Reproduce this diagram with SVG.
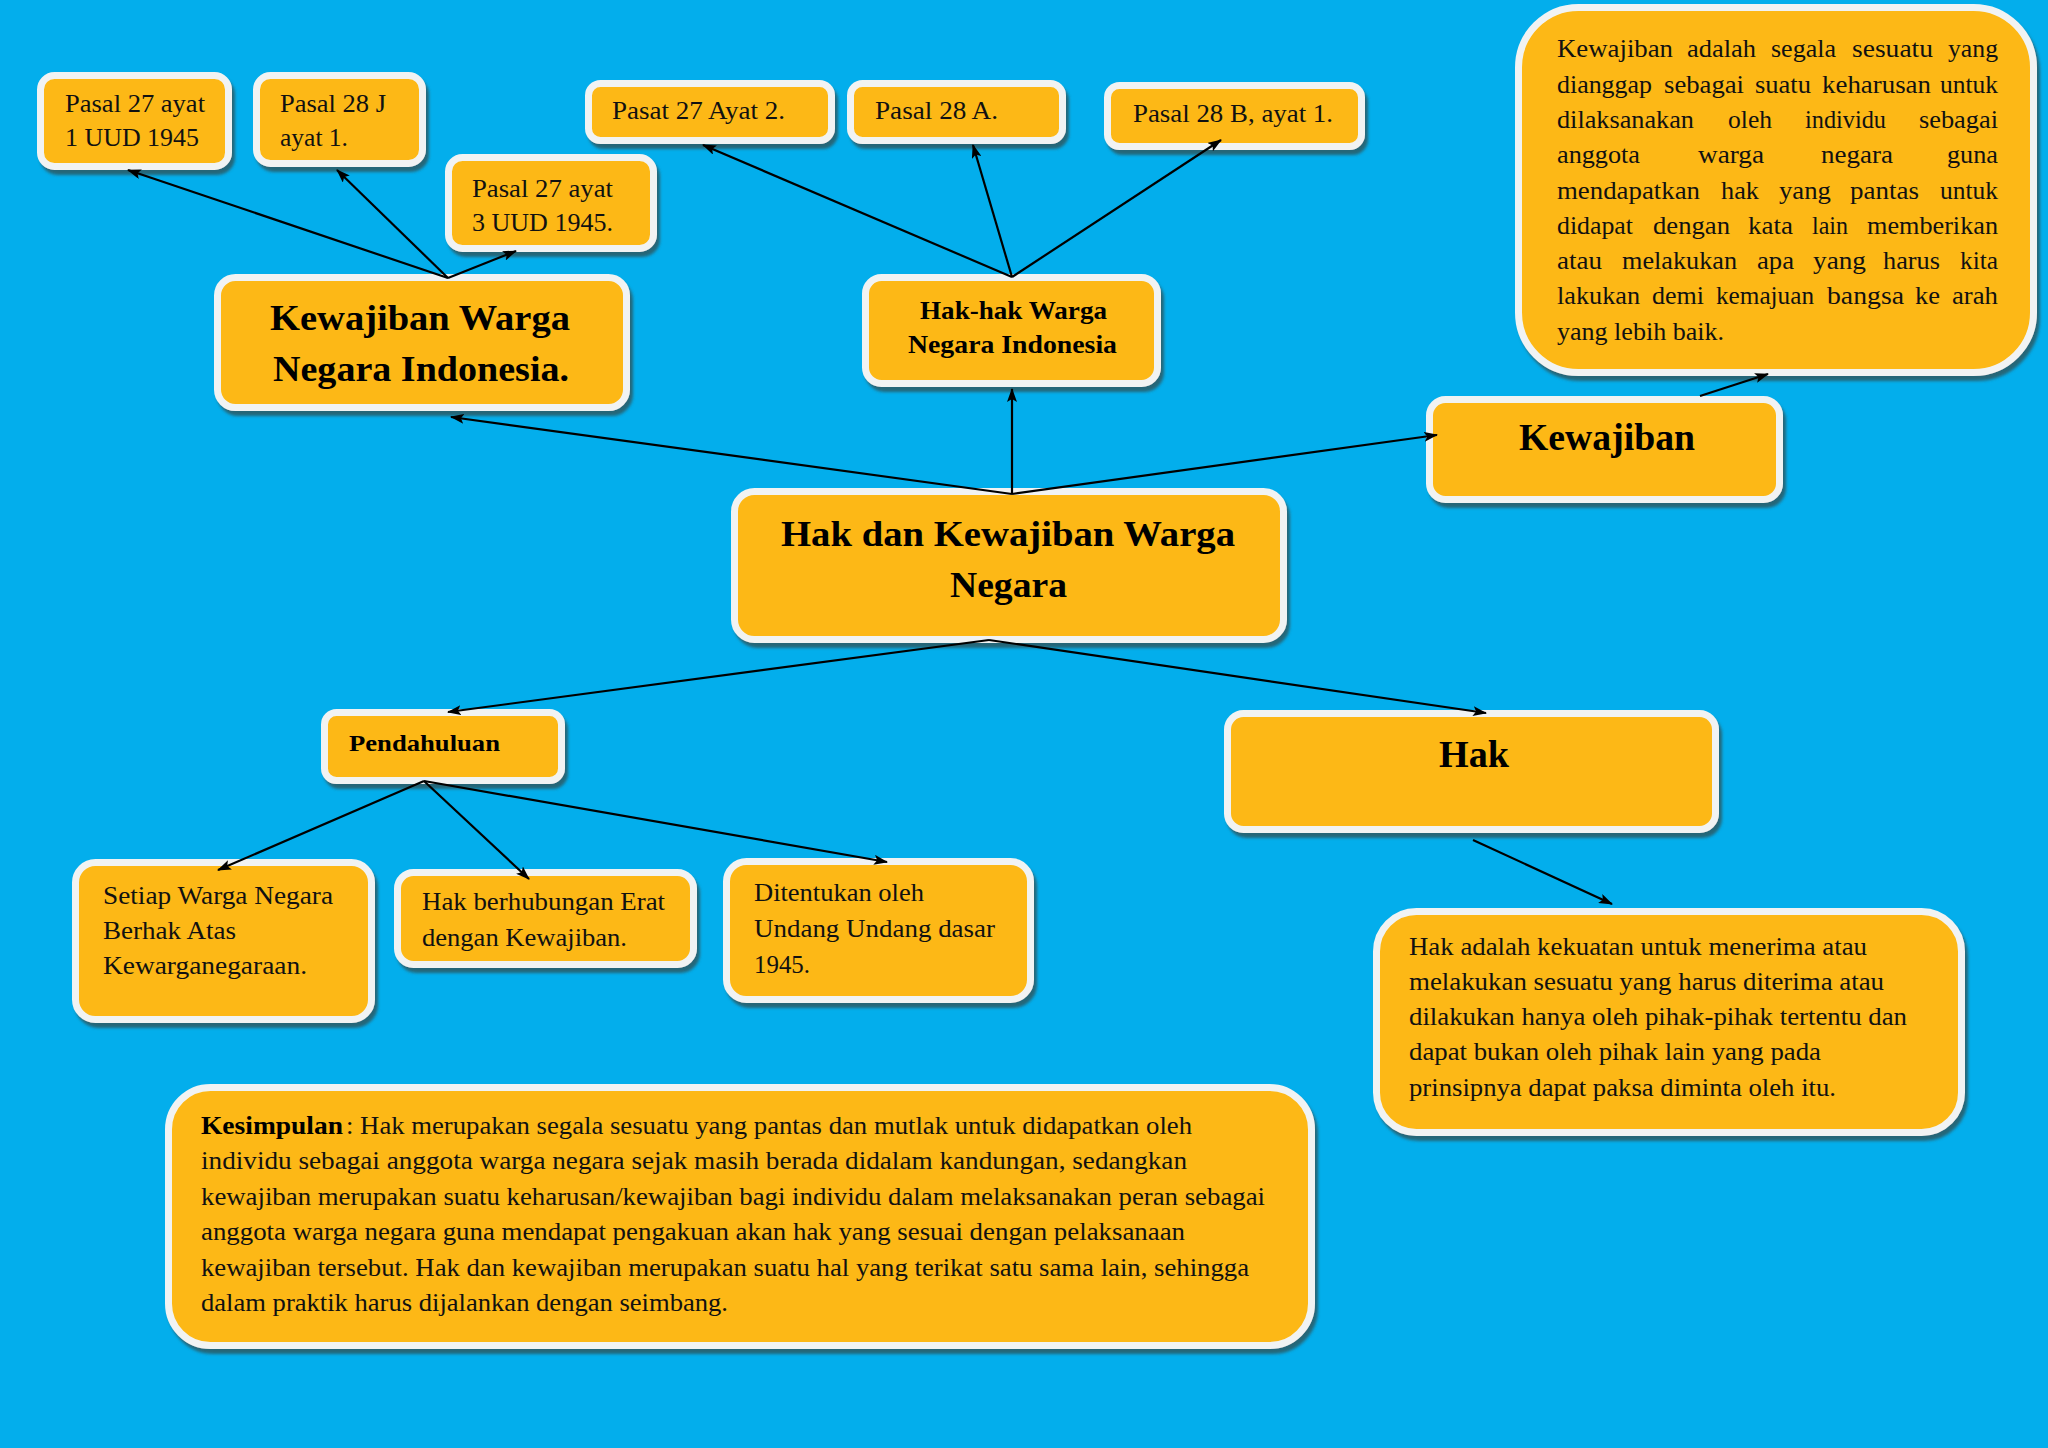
<svg xmlns="http://www.w3.org/2000/svg" width="2048" height="1448" viewBox="0 0 2048 1448">
<defs>
<style>
.box{fill:#FDB813;stroke:#F1F3F3;stroke-width:7;filter:url(#sh)}
.n{font-family:"Liberation Serif","Times New Roman",serif;font-size:26px;fill:#111}
.b{font-family:"Liberation Serif","Times New Roman",serif;font-weight:bold;fill:#000}
.c line{stroke:#000;stroke-width:2.2;marker-end:url(#ah)}
</style>
<filter id="sh" x="-5%" y="-5%" width="115%" height="125%">
<feDropShadow dx="3" dy="5" stdDeviation="1.5" flood-color="#2B5F6C" flood-opacity="0.9"/>
</filter>
<marker id="ah" viewBox="0 0 14 10" refX="13" refY="5" markerWidth="14" markerHeight="10" markerUnits="userSpaceOnUse" orient="auto">
<path d="M0,0 L14,5 L0,10 L3,5 Z" fill="#000"/>
</marker>
</defs>
<rect width="2048" height="1448" fill="#03AEEC"/>

<g id="pasal27a1">
<rect class="box" x="40.5" y="75.5" width="188" height="91" rx="14"/>
<text class="n" x="65" y="112" textLength="140" lengthAdjust="spacingAndGlyphs">Pasal 27 ayat</text>
<text class="n" x="65" y="146" textLength="134" lengthAdjust="spacingAndGlyphs">1 UUD 1945</text>
</g>

<g id="pasal28j">
<rect class="box" x="256.5" y="75.5" width="166" height="88" rx="14"/>
<text class="n" x="280" y="112" textLength="106" lengthAdjust="spacingAndGlyphs">Pasal 28 J</text>
<text class="n" x="280" y="146" textLength="68" lengthAdjust="spacingAndGlyphs">ayat 1.</text>
</g>

<g id="pasal27a3">
<rect class="box" x="448.5" y="157.5" width="205" height="91" rx="14"/>
<text class="n" x="472" y="197" textLength="141" lengthAdjust="spacingAndGlyphs">Pasal 27 ayat</text>
<text class="n" x="472" y="231" textLength="141" lengthAdjust="spacingAndGlyphs">3 UUD 1945.</text>
</g>

<g id="kewajibanWNI">
<rect class="box" x="217.5" y="277.5" width="409" height="130" rx="18"/>
<text class="b" font-size="36" x="270" y="330" textLength="300" lengthAdjust="spacingAndGlyphs">Kewajiban Warga</text>
<text class="b" font-size="36" x="273" y="381" textLength="296" lengthAdjust="spacingAndGlyphs">Negara Indonesia.</text>
</g>

<g id="pasat27a2">
<rect class="box" x="588.5" y="83.5" width="243" height="57" rx="12"/>
<text class="n" x="612" y="119" textLength="173" lengthAdjust="spacingAndGlyphs">Pasat 27 Ayat 2.</text>
</g>

<g id="pasal28a">
<rect class="box" x="850.5" y="83.5" width="212" height="57" rx="12"/>
<text class="n" x="875" y="119" textLength="123" lengthAdjust="spacingAndGlyphs">Pasal 28 A.</text>
</g>

<g id="pasal28b">
<rect class="box" x="1107.5" y="85.5" width="254" height="61" rx="12"/>
<text class="n" x="1133" y="122" textLength="200" lengthAdjust="spacingAndGlyphs">Pasal 28 B, ayat 1.</text>
</g>

<g id="hakhakWNI">
<rect class="box" x="865.5" y="277.5" width="292" height="106" rx="16"/>
<text class="b" font-size="26" x="920" y="319" textLength="187" lengthAdjust="spacingAndGlyphs">Hak-hak Warga</text>
<text class="b" font-size="26" x="908" y="353" textLength="209" lengthAdjust="spacingAndGlyphs">Negara Indonesia</text>
</g>

<g id="kewajibanDef">
<rect class="box" x="1518.5" y="7.5" width="515" height="365" rx="60"/>
<text class="n" y="57"><tspan x="1557" textLength="116" lengthAdjust="spacingAndGlyphs">Kewajiban</tspan> <tspan x="1687" textLength="69" lengthAdjust="spacingAndGlyphs">adalah</tspan> <tspan x="1771" textLength="65" lengthAdjust="spacingAndGlyphs">segala</tspan> <tspan x="1852" textLength="81" lengthAdjust="spacingAndGlyphs">sesuatu</tspan> <tspan x="1948" textLength="50" lengthAdjust="spacingAndGlyphs">yang</tspan></text>
<text class="n" y="93"><tspan x="1557" textLength="95" lengthAdjust="spacingAndGlyphs">dianggap</tspan> <tspan x="1664" textLength="80" lengthAdjust="spacingAndGlyphs">sebagai</tspan> <tspan x="1755" textLength="56" lengthAdjust="spacingAndGlyphs">suatu</tspan> <tspan x="1822" textLength="109" lengthAdjust="spacingAndGlyphs">keharusan</tspan> <tspan x="1940" textLength="58" lengthAdjust="spacingAndGlyphs">untuk</tspan></text>
<text class="n" y="128"><tspan x="1557" textLength="137" lengthAdjust="spacingAndGlyphs">dilaksanakan</tspan> <tspan x="1728" textLength="44" lengthAdjust="spacingAndGlyphs">oleh</tspan> <tspan x="1805" textLength="81" lengthAdjust="spacingAndGlyphs">individu</tspan> <tspan x="1919" textLength="79" lengthAdjust="spacingAndGlyphs">sebagai</tspan></text>
<text class="n" y="163"><tspan x="1557" textLength="83" lengthAdjust="spacingAndGlyphs">anggota</tspan> <tspan x="1698" textLength="66" lengthAdjust="spacingAndGlyphs">warga</tspan> <tspan x="1821" textLength="72" lengthAdjust="spacingAndGlyphs">negara</tspan> <tspan x="1947" textLength="51" lengthAdjust="spacingAndGlyphs">guna</tspan></text>
<text class="n" y="199"><tspan x="1557" textLength="143" lengthAdjust="spacingAndGlyphs">mendapatkan</tspan> <tspan x="1721" textLength="38" lengthAdjust="spacingAndGlyphs">hak</tspan> <tspan x="1779" textLength="52" lengthAdjust="spacingAndGlyphs">yang</tspan> <tspan x="1850" textLength="69" lengthAdjust="spacingAndGlyphs">pantas</tspan> <tspan x="1940" textLength="58" lengthAdjust="spacingAndGlyphs">untuk</tspan></text>
<text class="n" y="234"><tspan x="1557" textLength="76" lengthAdjust="spacingAndGlyphs">didapat</tspan> <tspan x="1653" textLength="77" lengthAdjust="spacingAndGlyphs">dengan</tspan> <tspan x="1748" textLength="45" lengthAdjust="spacingAndGlyphs">kata</tspan> <tspan x="1812" textLength="36" lengthAdjust="spacingAndGlyphs">lain</tspan> <tspan x="1867" textLength="131" lengthAdjust="spacingAndGlyphs">memberikan</tspan></text>
<text class="n" y="269"><tspan x="1557" textLength="45" lengthAdjust="spacingAndGlyphs">atau</tspan> <tspan x="1622" textLength="115" lengthAdjust="spacingAndGlyphs">melakukan</tspan> <tspan x="1757" textLength="37" lengthAdjust="spacingAndGlyphs">apa</tspan> <tspan x="1813" textLength="53" lengthAdjust="spacingAndGlyphs">yang</tspan> <tspan x="1883" textLength="57" lengthAdjust="spacingAndGlyphs">harus</tspan> <tspan x="1960" textLength="38" lengthAdjust="spacingAndGlyphs">kita</tspan></text>
<text class="n" y="304"><tspan x="1557" textLength="83" lengthAdjust="spacingAndGlyphs">lakukan</tspan> <tspan x="1652" textLength="52" lengthAdjust="spacingAndGlyphs">demi</tspan> <tspan x="1716" textLength="98" lengthAdjust="spacingAndGlyphs">kemajuan</tspan> <tspan x="1827" textLength="77" lengthAdjust="spacingAndGlyphs">bangsa</tspan> <tspan x="1915" textLength="25" lengthAdjust="spacingAndGlyphs">ke</tspan> <tspan x="1952" textLength="46" lengthAdjust="spacingAndGlyphs">arah</tspan></text>
<text class="n" x="1557" y="340" textLength="167" lengthAdjust="spacingAndGlyphs">yang lebih baik.</text>
</g>

<g id="kewajiban">
<rect class="box" x="1429.5" y="399.5" width="350" height="100" rx="16"/>
<text class="b" font-size="37" x="1519" y="450" textLength="176" lengthAdjust="spacingAndGlyphs">Kewajiban</text>
</g>

<g id="center">
<rect class="box" x="734.5" y="491.5" width="549" height="148" rx="20"/>
<text class="b" font-size="36" x="781" y="546" textLength="454" lengthAdjust="spacingAndGlyphs">Hak dan Kewajiban Warga</text>
<text class="b" font-size="36" x="950" y="597" textLength="117" lengthAdjust="spacingAndGlyphs">Negara</text>
</g>

<g id="pendahuluan">
<rect class="box" x="324.5" y="712.5" width="237" height="68" rx="12"/>
<text class="b" font-size="24" x="349" y="751" textLength="151" lengthAdjust="spacingAndGlyphs">Pendahuluan</text>
</g>

<g id="hak">
<rect class="box" x="1227.5" y="713.5" width="488" height="116" rx="16"/>
<text class="b" font-size="37" x="1439" y="767" textLength="70" lengthAdjust="spacingAndGlyphs">Hak</text>
</g>

<g id="setiap">
<rect class="box" x="75.5" y="862.5" width="296" height="157" rx="20"/>
<text class="n" x="103" y="904" textLength="230" lengthAdjust="spacingAndGlyphs">Setiap Warga Negara</text>
<text class="n" x="103" y="939" textLength="133" lengthAdjust="spacingAndGlyphs">Berhak Atas</text>
<text class="n" x="103" y="974" textLength="204" lengthAdjust="spacingAndGlyphs">Kewarganegaraan.</text>
</g>

<g id="hakberhubungan">
<rect class="box" x="397.5" y="872.5" width="296" height="92" rx="16"/>
<text class="n" x="422" y="910" textLength="243" lengthAdjust="spacingAndGlyphs">Hak berhubungan Erat</text>
<text class="n" x="422" y="946" textLength="205" lengthAdjust="spacingAndGlyphs">dengan Kewajiban.</text>
</g>

<g id="ditentukan">
<rect class="box" x="726.5" y="861.5" width="304" height="138" rx="20"/>
<text class="n" x="754" y="901" textLength="170" lengthAdjust="spacingAndGlyphs">Ditentukan oleh</text>
<text class="n" x="754" y="937" textLength="241" lengthAdjust="spacingAndGlyphs">Undang Undang dasar</text>
<text class="n" x="754" y="973" textLength="56" lengthAdjust="spacingAndGlyphs">1945.</text>
</g>

<g id="hakDef">
<rect class="box" x="1376.5" y="911.5" width="585" height="221" rx="40"/>
<text class="n" x="1409" y="955" textLength="458" lengthAdjust="spacingAndGlyphs">Hak adalah kekuatan untuk menerima atau</text>
<text class="n" x="1409" y="990" textLength="475" lengthAdjust="spacingAndGlyphs">melakukan sesuatu yang harus diterima atau</text>
<text class="n" x="1409" y="1025" textLength="498" lengthAdjust="spacingAndGlyphs">dilakukan  hanya oleh pihak-pihak  tertentu dan</text>
<text class="n" x="1409" y="1060" textLength="412" lengthAdjust="spacingAndGlyphs">dapat bukan oleh pihak lain  yang pada</text>
<text class="n" x="1409" y="1096" textLength="427" lengthAdjust="spacingAndGlyphs">prinsipnya  dapat paksa diminta  oleh itu.</text>
</g>

<g id="kesimpulan">
<rect class="box" x="168.5" y="1087.5" width="1143" height="258" rx="42"/>
<text class="n" y="1134"><tspan class="b" x="201" textLength="142" lengthAdjust="spacingAndGlyphs">Kesimpulan</tspan> <tspan x="346" textLength="846" lengthAdjust="spacingAndGlyphs">: Hak merupakan segala sesuatu yang pantas dan mutlak untuk didapatkan oleh</tspan></text>
<text class="n" x="201" y="1169" textLength="986" lengthAdjust="spacingAndGlyphs">individu  sebagai anggota warga negara sejak masih berada didalam    kandungan, sedangkan</text>
<text class="n" x="201" y="1205" textLength="1064" lengthAdjust="spacingAndGlyphs">kewajiban merupakan suatu keharusan/kewajiban bagi individu  dalam melaksanakan peran sebagai</text>
<text class="n" x="201" y="1240" textLength="984" lengthAdjust="spacingAndGlyphs">anggota warga negara guna mendapat pengakuan akan hak yang sesuai dengan pelaksanaan</text>
<text class="n" x="201" y="1276" textLength="1048" lengthAdjust="spacingAndGlyphs">kewajiban tersebut. Hak dan kewajiban merupakan suatu hal yang terikat satu sama lain,  sehingga</text>
<text class="n" x="201" y="1311" textLength="527" lengthAdjust="spacingAndGlyphs">dalam praktik harus dijalankan  dengan seimbang.</text>
</g>

<g id="connectors" class="c">
<line x1="448" y1="278" x2="128" y2="170"/>
<line x1="448" y1="278" x2="337" y2="170"/>
<line x1="448" y1="278" x2="516" y2="251"/>
<line x1="1012" y1="277" x2="703" y2="145"/>
<line x1="1012" y1="277" x2="973" y2="145"/>
<line x1="1012" y1="277" x2="1221" y2="140"/>
<line x1="1012" y1="494" x2="451" y2="417"/>
<line x1="1012" y1="494" x2="1012" y2="389"/>
<line x1="1012" y1="494" x2="1437" y2="435"/>
<line x1="1700" y1="396" x2="1768" y2="374"/>
<line x1="989" y1="640" x2="448" y2="712"/>
<line x1="989" y1="640" x2="1486" y2="713"/>
<line x1="424" y1="781" x2="218" y2="870"/>
<line x1="424" y1="781" x2="529" y2="879"/>
<line x1="424" y1="781" x2="887" y2="862"/>
<line x1="1473" y1="840" x2="1612" y2="904"/>
</g>
</svg>
